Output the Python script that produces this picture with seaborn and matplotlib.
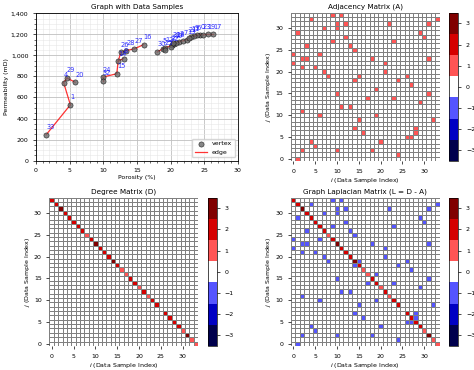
import numpy as np
import matplotlib
matplotlib.use("Agg")
import matplotlib.pyplot as plt
import matplotlib.ticker as mticker
import seaborn as sns

# vertex positions (porosity %, permeability mD), index = data sample number
porosity = [24.4, 5.1, 20.2, 21.3, 4.1, 18.8, 23.9, 21.9, 13.0, 23.5,
            20.5, 23.0, 19.2, 22.5, 12.2, 12.0, 16.0, 26.3, 20.8, 25.5,
            5.8, 22.7, 20.0, 24.8, 9.9, 19.1, 12.6, 14.6, 13.4, 4.6,
            18.0, 20.3, 9.9, 1.5]
permeability = [1198, 530, 1095, 1130, 742, 1062, 1190, 1140, 970, 1185,
                1108, 1178, 1072, 1150, 945, 826, 1103, 1200, 1118, 1200,
                745, 1165, 1082, 1195, 793, 1050, 1028, 1062, 1046, 785,
                1032, 1122, 758, 245]

# graph edges (undirected)
edge_from = [0, 0, 1, 1, 2, 2, 2, 2, 3, 3, 4, 5, 5, 6, 6, 7,
             8, 10, 10, 11, 13, 14, 14, 15, 16, 17, 18, 19, 20, 24, 26, 27]
edge_to = [9, 11, 4, 33, 10, 12, 22, 31, 7, 10, 29, 12, 30, 9, 23, 13,
           14, 18, 31, 21, 21, 15, 26, 24, 27, 19, 31, 23, 29, 32, 28, 28]

n = len(porosity)
A = np.zeros((n, n))
for a, b in zip(edge_from, edge_to):
    A[a, b] = 1
    A[b, a] = 1
D = np.diag(A.sum(axis=1))
L = D - A

plt.rcParams['font.family'] = ['DejaVu Sans']
fig = plt.figure(figsize=(4.74, 3.70), dpi=100)

# graph with data samples
ax = fig.add_axes([0.076, 0.566, 0.426, 0.398])
for k, (a, b) in enumerate(zip(edge_from, edge_to)):
    ax.plot([porosity[a], porosity[b]], [permeability[a], permeability[b]],
            color='red', lw=0.9, alpha=0.8, zorder=2,
            label='edge' if k == 0 else None)
sns.scatterplot(x=porosity, y=permeability, ax=ax, color='dimgray', s=14,
                edgecolor='black', linewidth=0.4, alpha=0.8, zorder=3,
                label='vertex')
for i in range(n):
    ax.annotate(str(i), (porosity[i], permeability[i]), xytext=(0, 4),
                textcoords='offset points', color='blue', alpha=0.8,
                fontsize=4.8, zorder=4)
ax.set_xlim(0, 30)
ax.set_ylim(0, 1400)
ax.xaxis.set_minor_locator(mticker.AutoMinorLocator(5))
ax.yaxis.set_minor_locator(mticker.AutoMinorLocator(4))
ax.yaxis.set_major_formatter(mticker.StrMethodFormatter('{x:,.0f}'))
ax.grid(which='major', color='0.75', lw=0.6)
ax.grid(which='minor', color='0.9', lw=0.4)
ax.set_axisbelow(True)
ax.tick_params(labelsize=4.5, length=2, width=0.5)
ax.tick_params(which='minor', length=1.2, width=0.4)
for s in ax.spines.values():
    s.set_linewidth(0.6)
ax.set_xlabel('Porosity (%)', fontsize=4.5, labelpad=1.5)
ax.set_ylabel('Permeability (mD)', fontsize=4.5, labelpad=1.5)
ax.set_title('Graph with Data Samples', fontsize=5.2, pad=3)
handles, labels = ax.get_legend_handles_labels()
order = [labels.index('vertex'), labels.index('edge')]
ax.legend([handles[i] for i in order], [labels[i] for i in order],
          loc='lower right', fontsize=4.5, markerscale=1.0)

cmap = plt.get_cmap('seismic', 7)
ticks = np.arange(0, 34, 5)

panels = [
    (A, 'Adjacency Matrix (A)', [0.614, 0.565, 0.3133, 0.4005], [0.948, 0.565, 0.019, 0.4005]),
    (D, 'Degree Matrix (D)', [0.1044, 0.0651, 0.3133, 0.4005], [0.438, 0.0651, 0.019, 0.4005]),
    (L, 'Graph Laplacian Matrix (L = D - A)', [0.614, 0.0651, 0.3133, 0.4005], [0.948, 0.0651, 0.019, 0.4005]),
]
for mat, title, pos, cpos in panels:
    mx = fig.add_axes(pos)
    cx = fig.add_axes(cpos)
    sns.heatmap(mat, ax=mx, cbar_ax=cx, cmap=cmap, vmin=-3.5, vmax=3.5,
                linewidths=0.5, linecolor='gray', xticklabels=False,
                yticklabels=False, cbar_kws={'ticks': range(-3, 4)})
    mx.set_xticks(ticks + 0.5)
    mx.set_xticklabels(ticks)
    mx.set_yticks(n - 1 - ticks + 0.5)
    mx.set_yticklabels(ticks, rotation=0)
    mx.tick_params(labelsize=4.5, length=2, width=0.5)
    mx.set_xlabel('$i$ (Data Sample Index)', fontsize=4.5, labelpad=1.5)
    mx.set_ylabel('$j$ (Data Sample Index)', fontsize=4.5, labelpad=1.5)
    mx.set_title(title, fontsize=5.2, pad=3)
    cx.tick_params(labelsize=4.5, length=2, width=0.5)
    cb = mx.collections[0].colorbar
    cb.outline.set_visible(True)
    cb.outline.set_linewidth(0.5)

fig.savefig('out.png', dpi=100)
